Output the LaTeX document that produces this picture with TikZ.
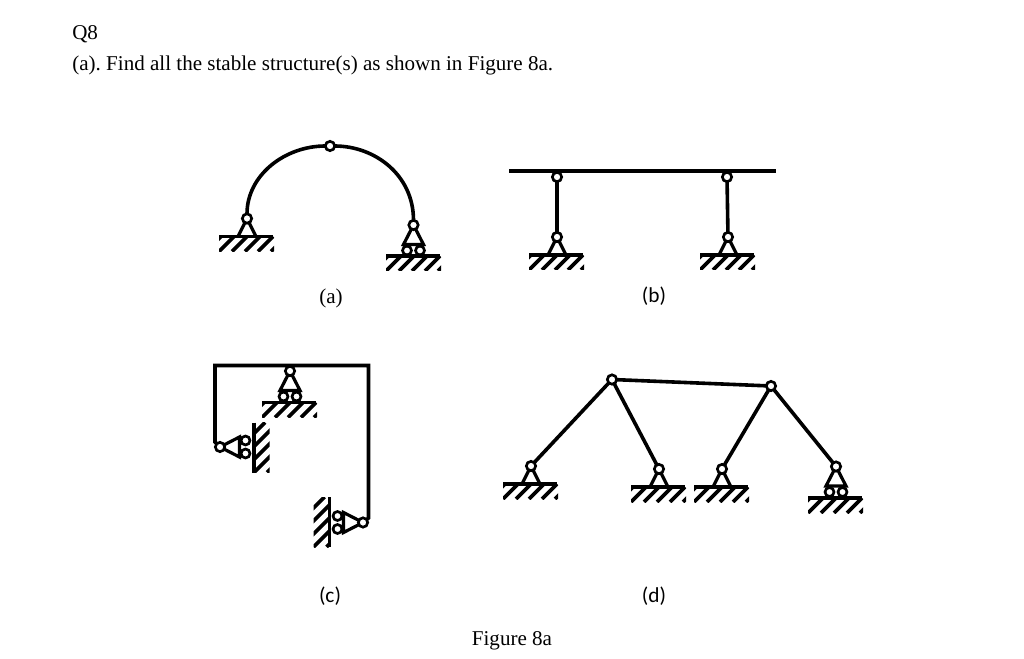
\documentclass[tikz,border=0pt]{standalone}
\usepackage{fontspec}
\setmainfont{Liberation Serif}
\newfontfamily\labelfont{Carlito}
\frenchspacing
\tikzset{
	member/.style={line width=2.7pt, line join=miter},
	hinge/.style={circle, draw, fill=white, line width=2pt, inner sep=0pt, outer sep=0pt, minimum size=7pt},
	capt/.style={font=\fontsize{15.8}{18}\selectfont, anchor=base},
	captsans/.style={font=\labelfont\fontsize{16}{18}\selectfont, anchor=base}
}
\def\hatchbox(#1,#2)(#3,#4){\begin{scope}
	\clip (#1,#2) rectangle (#3,#4);
	\foreach \hx in {-52,-39,...,65}
		\draw[line width=2.8pt] (#1+\hx, #4) -- ({#1+\hx+(#4)-(#2)}, #2);
\end{scope}}
\def\grnd(#1,#2){\draw[line width=2.4pt] (#1-28, #2) -- (#1+26, #2);
	\hatchbox(#1-28,#2)(#1+27,#2+15)}
\def\pinsup(#1,#2){\draw[line width=2.4pt] (#1-9, #2+18) -- (#1, #2) -- (#1+9, #2+18);
	\grnd(#1,#2+18)}
\def\rollsup[#1](#2,#3){\begin{scope}[shift={(#2,#3)}, rotate=#1]
	\draw[line width=2.4pt] (-10, 19.5) -- (0, 0) -- (10, 19.5) -- cycle;
	\draw[line width=2pt, fill=white] (-6.5, 25.5) circle (4.5);
	\draw[line width=2pt, fill=white] (6.5, 25.5) circle (4.5);
\end{scope}}

\begin{document}
\begin{tikzpicture}[x=0.75pt, y=-0.75pt]
			\useasboundingbox (0, 0) rectangle (1024, 659);
			
			%%%%% TEXT %%%%%
			\node[capt, anchor=base west, inner sep=0pt] (qnum) at (72, 39.5) {Q8};
			\node[capt, anchor=base west, inner sep=0pt] (qtext) at (72, 71) {(a). Find all the stable structure(s) as shown in Figure 8a.};
			\node[capt] (labela) at (331, 303) {(a)};
			\node[captsans] (labelb) at (654, 302) {(b)};
			\node[captsans] (labelc) at (330, 602) {(c)};
			\node[captsans] (labeld) at (654, 602) {(d)};
			\node[capt] (figcap) at (512, 645) {Figure 8a};
			
			%%%%% (a) %%%%%
			\pinsup(247, 218.5);
			\rollsup[0](413.5, 225);
			\grnd(414, 256);
			\node[hinge] (aleft) at (247, 218.5) {};
			\node[hinge] (aright) at (413.5, 225) {};
			\node[hinge] (atop) at (330, 146) {};
			\draw[member] (aleft) .. controls (247, 175) and (285, 146) .. (atop);
			\draw[member] (atop) .. controls (375, 146) and (413.5, 175) .. (aright);
			
			%%%%% (b) %%%%%
			\pinsup(557, 237);
			\pinsup(728, 237);
			\coordinate (bstart) at (509, 171);
			\coordinate (bend) at (776, 171);
			\draw[member] (bstart) -- (bend);
			\node[hinge] (bup1) at (557, 177) {};
			\node[hinge] (bup2) at (727, 177) {};
			\node[hinge] (blow1) at (557, 237) {};
			\node[hinge] (blow2) at (728, 237) {};
			\draw[member] (bup1) -- (blow1);
			\draw[member] (bup2) -- (blow2);
			
			%%%%% (c) %%%%%
			\rollsup[0](290, 371);
			\grnd(290, 402.5);
			\rollsup[90](220, 447);
			\draw[line width=2.4pt] (254, 422.5) -- (254, 472.5);
			\hatchbox(254,422.5)(269.5,472.5)
			\rollsup[-90](363, 522.5);
			\draw[line width=2.4pt] (329.5, 497) -- (329.5, 547);
			\hatchbox(313.5,497)(329.5,547)
			\coordinate (cbl) at (215, 442);
			\coordinate (ctl) at (215, 365.5);
			\coordinate (ctr) at (368.5, 365.5);
			\coordinate (cbr) at (368.5, 518);
			\node[hinge] (cleft) at (220, 447) {};
			\node[hinge] (cright) at (363, 522.5) {};
			\node[hinge] (ctop) at (290, 371) {};
			\draw[member] (cleft) -- (cbl) -- (ctl) -- (ctr) -- (cbr) -- (cright);
			
			%%%%% (d) %%%%%
			\pinsup(531, 466);
			\pinsup(659, 469);
			\pinsup(722, 469);
			\rollsup[0](836, 466.5);
			\grnd(836, 498);
			\node[hinge] (dtop1) at (612, 379.5) {};
			\node[hinge] (dtop2) at (771, 386) {};
			\node[hinge] (dsup1) at (531, 466) {};
			\node[hinge] (dsup2) at (659, 469) {};
			\node[hinge] (dsup3) at (722, 469) {};
			\node[hinge] (dsup4) at (836, 466.5) {};
			\draw[member] (dsup1) -- (dtop1);
			\draw[member] (dsup2) -- (dtop1);
			\draw[member] (dtop1) -- (dtop2);
			\draw[member] (dsup3) -- (dtop2);
			\draw[member] (dsup4) -- (dtop2);
\end{tikzpicture}
\end{document}
